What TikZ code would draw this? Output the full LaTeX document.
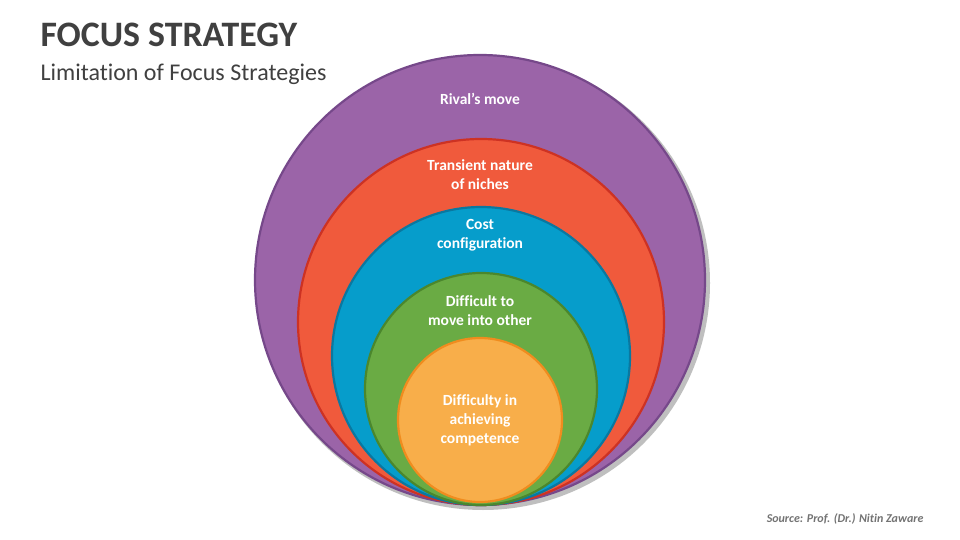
\documentclass[tikz,border=0pt]{standalone}
\usepackage{fontspec}
\setmainfont[Ligatures=NoCommon]{Carlito}
\begin{document}
\begin{tikzpicture}[x=1pt,y=-1pt,
 ring/.style={circle,line width=2.2pt,inner sep=0pt},
 lbl/.style={text=white,font=\fontsize{15.5}{19}\selectfont\bfseries,align=center}]
\useasboundingbox (0,0) rectangle (960,540);
\fill[white] (0,0) rectangle (960,540);
\node[ring,fill=black!25,draw=none,minimum size=454pt] at (483,283) {};
\node[ring,fill={rgb,255:red,155;green,100;blue,168},draw={rgb,255:red,118;green,72;blue,138},minimum size=450pt] (p) at (480,280) {};
\node[ring,fill={rgb,255:red,240;green,90;blue,60},draw={rgb,255:red,205;green,50;blue,35},minimum size=366pt] (r) at (481,322) {};
\node[ring,fill={rgb,255:red,6;green,157;blue,203},draw={rgb,255:red,10;green,120;blue,160},minimum size=298pt] (b) at (481,356) {};
\node[ring,fill={rgb,255:red,106;green,171;blue,68},draw={rgb,255:red,75;green,135;blue,45},minimum size=232pt] (g) at (481,389) {};
\node[ring,fill={rgb,255:red,248;green,174;blue,74},draw={rgb,255:red,240;green,140;blue,30},minimum size=164pt] (o) at (480,420) {};
\node[lbl] (t1) at (480,99) {Rival’s move};
\node[lbl] (t2) at (480,175) {Transient nature\\of niches};
\node[lbl] (t3) at (480,235) {Cost\\configuration};
\node[lbl] (t4) at (480,311) {Difficult to\\move into other};
\node[lbl] (t5) at (480,420) {Difficulty in\\achieving\\competence};
\node[anchor=west,font=\fontsize{35.8}{38}\selectfont\bfseries,text=black!75] (title) at (37,35) {FOCUS STRATEGY};
\node[anchor=west,font=\fontsize{24}{27}\selectfont,text=black!75] (sub) at (37,74) {Limitation of Focus Strategies};
\node[anchor=east,font=\fontsize{12}{14}\selectfont\bfseries\itshape,text=black!55] (src) at (927,519) {Source: Prof. (Dr.) Nitin Zaware};
\end{tikzpicture}
\end{document}
